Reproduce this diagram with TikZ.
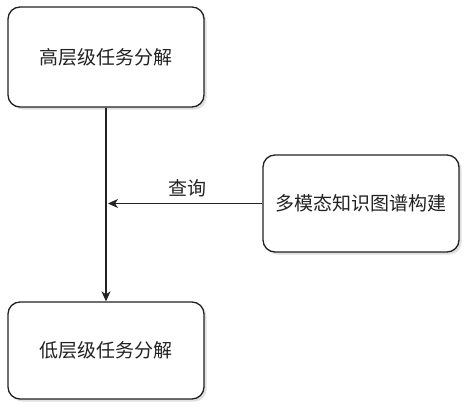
\documentclass[tikz,border=0pt]{standalone}
\usepackage{fontspec}
\setmainfont{Noto Sans CJK SC}
\usepackage{tikz}
\usetikzlibrary{positioning,arrows.meta,shadows}
\definecolor{tinta}{HTML}{222222}

\tikzset{
  caja/.style={draw=tinta, line width=1.3pt, rounded corners=12pt, fill=white,
    minimum width=196pt, minimum height=98pt, align=center, text=tinta,
    drop shadow={opacity=0.25, shadow xshift=2.5pt, shadow yshift=-2.5pt}},
  flecha/.style={draw=tinta, line width=1.2pt, -{Stealth[length=10pt,width=9pt,inset=3pt]}}
}

\begin{document}
\begin{tikzpicture}[x=1pt, y=-1pt, font=\fontsize{19}{23}\selectfont]
  \useasboundingbox (0,0) rectangle (474,415);
  % cajas
  \node[caja, minimum height=100pt] (alto) at (106,57) {高层级任务分解};
  \node[caja, minimum height=97pt] (bajo) at (106,350.5) {低层级任务分解};
  \node[caja, minimum height=97pt] (grafo) at (361,203.5) {多模态知识图谱构建};
  % conectores
  \coordinate (cruce) at (alto.south |- grafo.west);
  \draw[flecha] (alto.south) -- (bajo.north);
  \draw[flecha, shorten >=2pt] (grafo.west) -- (cruce) node[pos=0.48, above=3pt, text=tinta] (consulta) {查询};
\end{tikzpicture}
\end{document}
